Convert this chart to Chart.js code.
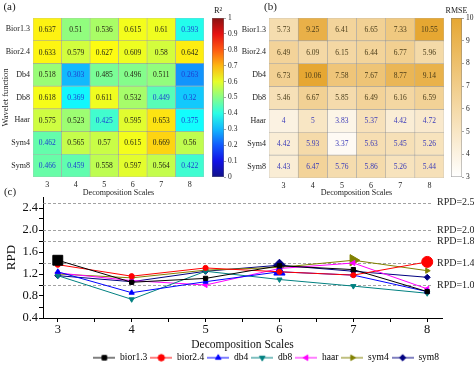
<!DOCTYPE html>
<html>
<head>
<meta charset="utf-8">
<script src="https://cdn.jsdelivr.net/npm/chart.js@4.4.1/dist/chart.umd.min.js"></script>
<style>
  body { margin: 0; background: #fff; }
  #wrap { position: relative; width: 474px; height: 366px; overflow: hidden; background: #fff; }
  canvas { position: absolute; }
</style>
</head>
<body>
<div id="wrap">
  <canvas id="heatA" style="left:0;top:0" width="206" height="200"></canvas>
  <canvas id="barA" style="left:212px;top:0" width="30" height="200"></canvas>
  <canvas id="heatB" style="left:237px;top:0" width="208" height="200"></canvas>
  <canvas id="barB" style="left:440px;top:0" width="34" height="200"></canvas>
  <canvas id="rpdChart" style="left:0;top:186px" width="474" height="180"></canvas>
</div>
<script>
// data
const scales = [3, 4, 5, 6, 7, 8];
const wavelets = ['Bior1.3', 'Bior2.4', 'Db4', 'Db8', 'Haar', 'Sym4', 'Sym8'];

const r2Values = [
  [0.637, 0.51, 0.536, 0.615, 0.61, 0.393],
  [0.633, 0.579, 0.627, 0.609, 0.58, 0.642],
  [0.518, 0.303, 0.485, 0.496, 0.511, 0.263],
  [0.618, 0.369, 0.611, 0.532, 0.449, 0.32],
  [0.575, 0.523, 0.425, 0.595, 0.653, 0.375],
  [0.462, 0.565, 0.57, 0.615, 0.669, 0.56],
  [0.466, 0.459, 0.558, 0.597, 0.564, 0.422]
];
const rmseValues = [
  [5.73, 9.25, 6.41, 6.65, 7.33, 10.55],
  [6.49, 6.09, 6.15, 6.44, 6.77, 5.96],
  [6.73, 10.06, 7.58, 7.67, 8.77, 9.14],
  [5.46, 6.67, 5.85, 6.49, 6.16, 6.59],
  [4, 5, 3.83, 5.37, 4.42, 4.72],
  [4.42, 5.93, 3.37, 5.63, 5.45, 5.26],
  [4.43, 6.47, 5.76, 5.86, 5.26, 5.44]
];
const r2Ticks = [0, 0.1, 0.2, 0.3, 0.4, 0.5, 0.6, 0.7, 0.8, 0.9, 1];
const rmseTicks = [3, 4, 5, 6, 7, 8, 9, 10];

const seriesNames = ['bior1.3', 'bior2.4', 'db4', 'db8', 'haar', 'sym4', 'sym8'];
const rpdBior13 = [1.45, 1.05, 1.12, 1.35, 1.28, 0.88];
const rpdBior24 = [1.37, 1.16, 1.31, 1.24, 1.18, 1.42];
const rpdDb4 = [1.24, 0.86, 1.06, 1.24, 1.18, 0.88];
const rpdDb8 = [1.17, 0.74, 1.25, 1.10, 0.98, 0.85];
const rpdHaar = [1.22, 1.08, 1.00, 1.30, 1.40, 0.93];
const rpdSym4 = [1.20, 1.13, 1.27, 1.32, 1.45, 1.26];
const rpdSym8 = [1.17, 1.06, 1.25, 1.36, 1.25, 1.14];
const rpdTicks = [0.4, 0.8, 1.2, 1.6, 2.0, 2.4];
const rpdLevels = [1.0, 1.4, 1.8, 2.0, 2.5];

// styles
const serif = 'Liberation Serif';
const markers = [
  { color: '#000000', shape: 'rect', rot: 0, big: 0, bigR: 7, r: 3 },
  { color: '#ff0000', shape: 'circle', rot: 0, big: 5, bigR: 5.5, r: 2.6 },
  { color: '#0000ff', shape: 'triangle', rot: 0, big: 3, bigR: 6.5, r: 3 },
  { color: '#008080', shape: 'triangle', rot: 180, big: -1, bigR: 0, r: 3 },
  { color: '#ff00ff', shape: 'triangle', rot: 270, big: -1, bigR: 0, r: 3 },
  { color: '#808000', shape: 'triangle', rot: 90, big: 4, bigR: 6.5, r: 3 },
  { color: '#000080', shape: 'rectRot', rot: 0, big: 3, bigR: 6, r: 3 }
];

// jet colour map, softened a little toward light grey like the figure
function jet(t) {
  const c = x => Math.round(0.92 * 255 * Math.max(0, Math.min(1, x)) + 0.08 * 230);
  return 'rgb(' + c(1.5 - Math.abs(4 * t - 3)) + ',' + c(1.5 - Math.abs(4 * t - 2)) + ',' + c(1.5 - Math.abs(4 * t - 1)) + ')';
}
function amber(v) {
  const t = Math.max(0, Math.min(1, (v - 3) / 7));
  return 'rgb(' + Math.round(255 - 25 * t) + ',' + Math.round(255 - 88 * t) + ',' + Math.round(255 - 205 * t) + ')';
}

function panelLabel(text, x, y) {
  return {
    id: 'panel',
    afterDraw(chart) {
      const ctx = chart.ctx;
      ctx.save();
      ctx.font = '11px "' + serif + '"';
      ctx.fillStyle = '#222';
      ctx.textAlign = 'center';
      ctx.textBaseline = 'middle';
      ctx.fillText(text, x, y);
      ctx.restore();
    }
  };
}

function makeHeat(id, values, fill, ink, yWidth, xHeight, padRight, yTitle, panel) {
  const datasets = scales.map((s, j) => ({
    data: wavelets.map(() => [s - 0.5, s + 0.5]),
    values: values.map(row => row[j]),
    backgroundColor: values.map(row => fill(row[j])),
    borderColor: 'rgba(110,110,110,0.5)',
    borderWidth: 0.6,
    borderSkipped: false,
    grouped: false,
    barPercentage: 1,
    categoryPercentage: 1
  }));

  const cellText = {
    id: 'cellText',
    afterDatasetsDraw(chart) {
      const ctx = chart.ctx;
      ctx.save();
      ctx.font = '7.5px "' + serif + '"';
      ctx.textAlign = 'center';
      ctx.textBaseline = 'middle';
      chart.data.datasets.forEach((ds, j) => {
        chart.getDatasetMeta(j).data.forEach((el, i) => {
          const p = el.getCenterPoint();
          ctx.fillStyle = ink(ds.values[i], i);
          ctx.fillText(String(ds.values[i]), p.x, p.y + 0.5);
        });
      });
      ctx.restore();
    }
  };

  return new Chart(document.getElementById(id), {
    type: 'bar',
    data: { labels: wavelets, datasets: datasets },
    options: {
      indexAxis: 'y',
      responsive: false,
      animation: false,
      layout: { padding: { top: 18, right: padRight, left: 0, bottom: 0 } },
      plugins: { legend: { display: false }, tooltip: { enabled: false } },
      scales: {
        x: {
          type: 'linear', min: 2.5, max: 8.5,
          afterBuildTicks: s => { s.ticks = scales.map(v => ({ value: v })); },
          afterFit: s => { s.height = xHeight; },
          grid: { display: false, drawTicks: false },
          border: { display: false },
          ticks: { font: { family: serif, size: 8 }, color: '#222', padding: 3 },
          title: { display: true, text: 'Decomposition Scales', font: { family: serif, size: 8 }, color: '#222', padding: { top: 0, bottom: 2 } }
        },
        y: {
          afterFit: s => { s.width = yWidth; },
          grid: { display: false, drawTicks: false },
          border: { display: false },
          ticks: { font: { family: serif, size: 8 }, color: '#222', padding: 3 },
          title: { display: !!yTitle, text: yTitle || '', font: { family: serif, size: 8.5 }, color: '#222', padding: { top: 1, bottom: 0 } }
        }
      }
    },
    plugins: [cellText, panel]
  });
}

function makeColorbar(id, min, max, ticks, stops, label, labelSize, padLeft, axisWidth) {
  const bar = {
    id: 'gradientBar',
    beforeDraw(chart) {
      const { ctx, chartArea: a } = chart;
      const g = ctx.createLinearGradient(0, a.bottom, 0, a.top);
      stops.forEach(s => g.addColorStop(s[0], s[1]));
      ctx.save();
      ctx.fillStyle = g;
      ctx.fillRect(a.left, a.top, a.right - a.left, a.bottom - a.top);
      ctx.strokeStyle = 'rgba(120,120,120,0.7)';
      ctx.lineWidth = 0.6;
      ctx.strokeRect(a.left + 0.3, a.top + 0.3, a.right - a.left - 0.6, a.bottom - a.top - 0.6);
      ctx.font = labelSize + 'px "' + serif + '"';
      ctx.fillStyle = '#222';
      ctx.textAlign = 'center';
      ctx.textBaseline = 'middle';
      ctx.fillText(label, (a.left + a.right) / 2, a.top - 7);
      ctx.restore();
    }
  };
  return new Chart(document.getElementById(id), {
    type: 'bar',
    data: { labels: [''], datasets: [] },
    options: {
      responsive: false,
      animation: false,
      layout: { padding: { left: padLeft, top: 18, bottom: 23, right: 0 } },
      plugins: { legend: { display: false }, tooltip: { enabled: false } },
      scales: {
        x: { display: false },
        y: {
          position: 'right', min: min, max: max,
          afterBuildTicks: s => { s.ticks = ticks.map(v => ({ value: v })); },
          afterFit: s => { s.width = axisWidth; },
          grid: { drawOnChartArea: false, tickLength: 2, color: '#666', lineWidth: 0.6 },
          border: { display: false },
          ticks: { font: { family: serif, size: 7.5 }, color: '#222', padding: 2, callback: v => String(v) }
        }
      }
    },
    plugins: [bar]
  });
}

// (a) R2 heat map
makeHeat('heatA', r2Values, jet, v => (v < 0.47 ? '#1d3fd0' : '#262616'), 33, 23, 2, 'Wavelet function', panelLabel('(a)', 9.5, 7));
makeColorbar('barA', 0, 1, r2Ticks, r2Ticks.map(t => [t, jet(t)]), 'R\u00b2', 8.5, 0, 18);

// (b) RMSE heat map
makeHeat('heatB', rmseValues, amber, (v, i) => (i < 4 ? '#4a3c18' : '#3a3ab8'), 32, 22, 1, '', panelLabel('(b)', 33.5, 7));
makeColorbar('barB', 3, 10, rmseTicks, [[0, amber(3)], [1, amber(10)]], 'RMSE', 8, 11, 12);

// (c) RPD lines
const rpdSeries = [rpdBior13, rpdBior24, rpdDb4, rpdDb8, rpdHaar, rpdSym4, rpdSym8];

function legendIcon(m) {
  const c = document.createElement('canvas');
  c.width = 22; c.height = 10;
  const ctx = c.getContext('2d');
  ctx.strokeStyle = m.color;
  ctx.fillStyle = m.color;
  ctx.lineWidth = 1;
  ctx.beginPath(); ctx.moveTo(0, 5); ctx.lineTo(22, 5); ctx.stroke();
  Chart.helpers.drawPoint(ctx, { pointStyle: m.shape, rotation: m.rot, radius: 3.2, borderWidth: 1 }, 11, 5);
  return c;
}

const rpdLinesPlugin = {
  id: 'rpdLines',
  beforeDatasetsDraw(chart) {
    const { ctx, chartArea: a, scales: { y } } = chart;
    ctx.save();
    ctx.strokeStyle = '#8a8a8a';
    ctx.lineWidth = 0.8;
    ctx.setLineDash([3, 2]);
    rpdLevels.forEach(v => {
      const py = Math.round(y.getPixelForValue(v)) + 0.5;
      ctx.beginPath(); ctx.moveTo(a.left, py); ctx.lineTo(a.right - 9, py); ctx.stroke();
    });
    ctx.restore();
  },
  afterDatasetsDraw(chart) {
    const { ctx, chartArea: a, scales: { y } } = chart;
    ctx.save();
    ctx.font = '10px "' + serif + '"';
    ctx.fillStyle = '#222';
    ctx.textBaseline = 'middle';
    rpdLevels.forEach(v => ctx.fillText('RPD=' + v.toFixed(1), a.right - 5, y.getPixelForValue(v)));
    ctx.restore();
  }
};

new Chart(document.getElementById('rpdChart'), {
  type: 'line',
  data: {
    datasets: rpdSeries.map((vals, i) => {
      const m = markers[i];
      return {
        label: seriesNames[i],
        data: scales.map((s, k) => ({ x: s, y: vals[k] })),
        borderColor: m.color,
        backgroundColor: m.color,
        borderWidth: 1,
        pointStyle: m.shape,
        pointRotation: m.rot,
        pointBorderWidth: 1,
        pointRadius: c => (c.dataIndex === m.big ? m.bigR : m.r),
        tension: 0
      };
    })
  },
  options: {
    responsive: false,
    animation: false,
    layout: { padding: { top: 11, right: 32, left: 0, bottom: 0 } },
    plugins: {
      tooltip: { enabled: false },
      legend: {
        position: 'bottom',
        align: 'end',
        maxHeight: 16,
        labels: {
          usePointStyle: true,
          pointStyleWidth: 22,
          padding: 3,
          color: '#222',
          font: { family: serif, size: 9.5 },
          generateLabels: chart => chart.data.datasets.map((ds, i) => ({
            text: ds.label,
            pointStyle: legendIcon(markers[i]),
            fillStyle: ds.borderColor,
            strokeStyle: ds.borderColor,
            lineWidth: 0,
            hidden: false,
            datasetIndex: i
          }))
        }
      }
    },
    scales: {
      x: {
        type: 'linear', min: 2.8, max: 8.2,
        afterBuildTicks: s => {
          s.ticks = scales.flatMap((v, i) => (i < scales.length - 1 ? [v, v + 0.5] : [v])).map(v => ({ value: v }));
        },
        afterFit: s => { s.height = 32; },
        grid: { drawOnChartArea: false, tickLength: 4, color: '#000' },
        border: { color: '#000', width: 1 },
        ticks: { font: { family: serif, size: 12.5 }, color: '#111', padding: 0, maxRotation: 0, autoSkip: false,
          callback: v => (Number.isInteger(v) ? String(v) : '') },
        title: { display: true, text: 'Decomposition Scales', font: { family: serif, size: 11.5 }, color: '#111', padding: { top: 0, bottom: -2 } }
      },
      y: {
        min: 0.4, max: 2.6,
        afterBuildTicks: s => {
          s.ticks = rpdTicks.flatMap((v, i) => (i ? [(v + rpdTicks[i - 1]) / 2, v] : [v])).map(v => ({ value: v }));
        },
        afterFit: s => { s.width = 43; },
        grid: { drawOnChartArea: false, tickLength: 4, color: '#000' },
        border: { color: '#000', width: 1 },
        ticks: { font: { family: serif, size: 12.5 }, color: '#111', padding: 1, autoSkip: false,
          callback: v => (rpdTicks.some(t => Math.abs(t - v) < 1e-6) ? v.toFixed(1) : '') },
        title: { display: true, text: 'RPD', font: { family: serif, size: 13 }, color: '#111' }
      }
    }
  },
  plugins: [rpdLinesPlugin, panelLabel('(c)', 10, 6)]
});
</script>
</body>
</html>
